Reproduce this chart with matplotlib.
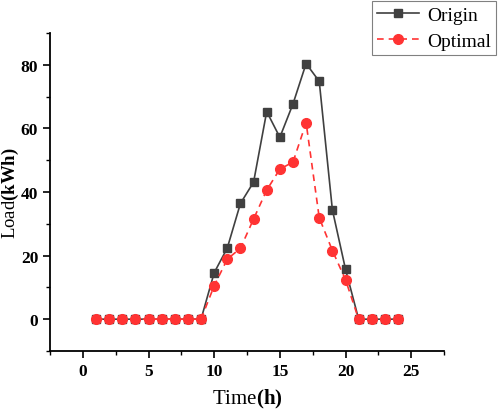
import numpy as np
import matplotlib
matplotlib.use('Agg')
import matplotlib.pyplot as plt
from matplotlib.ticker import MultipleLocator

hours = list(range(1, 25))
origin = [0, 0, 0, 0, 0, 0, 0, 0, 0, 14.6, 22.4, 36.4, 43.1, 65.3, 57.2, 67.7,
          80.4, 74.8, 34.4, 15.7, 0, 0, 0, 0]
optimal = [0, 0, 0, 0, 0, 0, 0, 0, 0, 10.5, 18.9, 22.3, 31.5, 40.6, 47.2, 49.4,
           61.8, 31.9, 21.6, 12.4, 0, 0, 0, 0]


def main():
    plt.rcParams['font.family'] = ['Liberation Serif', 'DejaVu Serif']
    plt.rcParams['mathtext.fontset'] = 'custom'
    plt.rcParams['mathtext.rm'] = 'Liberation Serif'
    plt.rcParams['mathtext.bf'] = 'Liberation Serif:bold'

    fig = plt.figure(figsize=(4.98, 4.10), dpi=100)
    ax = fig.add_axes([0.1004, 0.1415, 0.7912, 0.7755])

    ax.plot(hours, origin, '-', color='#404040', lw=1.2, marker='s', ms=6,
            label='Origin', zorder=2)
    ax.plot(hours, optimal, '--', color='#ff3333', lw=1.2, marker='o', ms=7,
            dashes=(4, 3), label='Optimal', zorder=3)

    ax.set_xlim(-2.5, 27.5)
    ax.set_ylim(-10, 90)
    ax.xaxis.set_major_locator(MultipleLocator(5))
    ax.xaxis.set_minor_locator(MultipleLocator(2.5))
    ax.yaxis.set_major_locator(MultipleLocator(20))
    ax.yaxis.set_minor_locator(MultipleLocator(10))
    ax.spines['top'].set_visible(False)
    ax.spines['right'].set_visible(False)
    for s in ('left', 'bottom'):
        ax.spines[s].set_linewidth(1.3)
    ax.tick_params(which='major', direction='out', length=5, width=1.2,
                   labelsize=12.5)
    ax.tick_params(which='minor', direction='out', length=3, width=1.0)
    for lab in ax.get_xticklabels() + ax.get_yticklabels():
        lab.set_fontweight('bold')

    ax.set_xlabel(r'Time$\mathbf{(h)}$', fontsize=15)
    ax.set_ylabel(r'Load$\mathbf{(kWh)}$', fontsize=13.5)
    ax.xaxis.set_label_coords(0.5, -0.112)
    ax.yaxis.set_label_coords(-0.073, 0.5)

    leg = ax.legend(loc='upper right', bbox_to_anchor=(0.996, 0.995),
                    bbox_transform=fig.transFigure, fontsize=14,
                    fancybox=False, framealpha=1, edgecolor='#808080',
                    borderpad=0.25, handlelength=2.2, handletextpad=0.4,
                    labelspacing=0.45, borderaxespad=0)
    leg.get_frame().set_linewidth(0.8)

    fig.savefig('out.png', dpi=100)


if __name__ == "__main__":
    main()
